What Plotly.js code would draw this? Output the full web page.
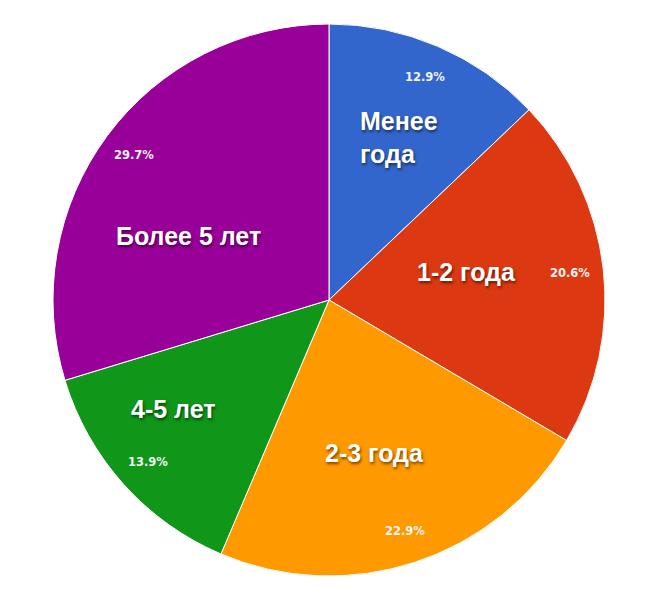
<!DOCTYPE html>
<html>
<head>
<meta charset="utf-8">
<script src="https://cdn.plot.ly/plotly-3.0.1.min.js"></script>
<style>
  html, body { margin: 0; padding: 0; background: #fff; }
  #chart { width: 650px; height: 605px; }
</style>
</head>
<body>
<div id="chart"></div>
<script>
const categories = ['Менее<br>года', '1-2 года', '2-3 года', '4-5 лет', 'Более 5 лет'];
const shares = [12.9, 20.6, 22.9, 13.9, 29.7];
const colors = ['#3366CC', '#DC3912', '#FF9900', '#109618', '#990099'];

// where the big labels sit inside each slice: angle shift (deg) and fraction of radius
const labelPlace = [[0, 0.64], [-5, 0.51], [1.5, 0.58], [7, 0.69], [-12, 0.56]];
const pctRadius = 0.88;

const W = 650, H = 605;
const cx = 329, cy = 300, R = 276;

const total = shares.reduce((a, b) => a + b, 0);
const annotations = [];
let acc = 0;
shares.forEach((v, i) => {
  const mid = (acc + v / 2) / total * 360;
  acc += v;
  const put = (deg, rf) => {
    const a = deg * Math.PI / 180;
    return { x: (cx + rf * R * Math.sin(a)) / W, y: 1 - (cy - rf * R * Math.cos(a)) / H };
  };
  const p = put(mid, pctRadius);
  annotations.push({
    x: p.x, y: p.y, xref: 'paper', yref: 'paper', showarrow: false,
    xanchor: 'center', yanchor: 'middle',
    text: v.toFixed(1) + '%',
    font: { family: 'DejaVu Sans, sans-serif', size: 11.5, color: '#f4f4f4', weight: 'bold' }
  });
  const l = put(mid + labelPlace[i][0], labelPlace[i][1]);
  annotations.push({
    x: l.x, y: l.y, xref: 'paper', yref: 'paper', showarrow: false, align: 'left',
    xanchor: 'center', yanchor: 'middle',
    text: '<b>' + categories[i] + '</b>',
    font: { family: 'Liberation Sans, Arial, sans-serif', size: 25, color: '#ffffff',
            shadow: '1px 2px 3px rgba(0,0,0,0.55)' }
  });
});

const data = [{
  type: 'pie',
  labels: categories,
  values: shares,
  sort: false,
  direction: 'clockwise',
  rotation: 0,
  textinfo: 'none',
  hoverinfo: 'label+percent',
  marker: { colors: colors, line: { color: '#ffffff', width: 1 } },
  domain: { x: [(cx - R) / W, (cx + R) / W], y: [1 - (cy + R) / H, 1 - (cy - R) / H] }
}];

const layout = {
  width: W,
  height: H,
  margin: { l: 0, r: 0, t: 0, b: 0 },
  showlegend: false,
  paper_bgcolor: '#ffffff',
  annotations: annotations
};

Plotly.newPlot('chart', data, layout, { displayModeBar: false, staticPlot: true });
</script>
</body>
</html>
